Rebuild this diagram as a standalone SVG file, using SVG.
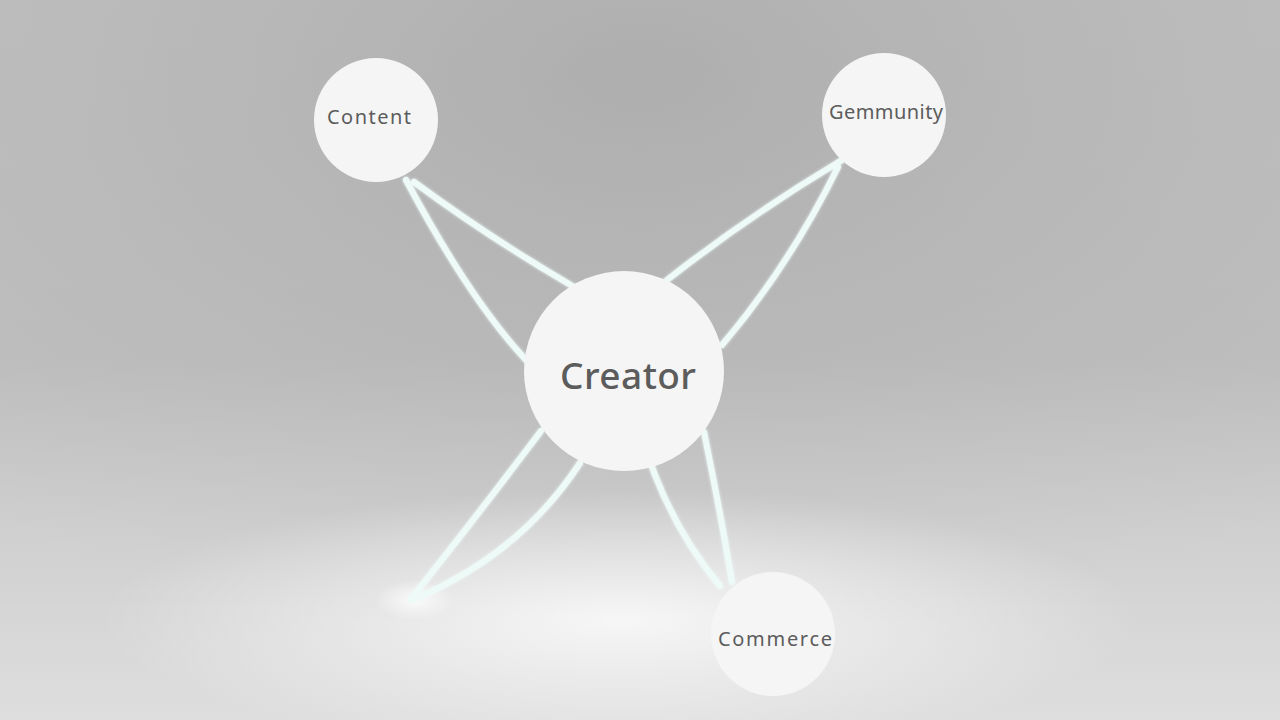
<svg xmlns="http://www.w3.org/2000/svg" width="1280" height="720" viewBox="0 0 1280 720">
<defs>
<linearGradient id="bg" x1="0" y1="0" x2="0" y2="1">
<stop offset="0" stop-color="#b6b6b6"/>
<stop offset="0.5" stop-color="#b3b3b3"/>
<stop offset="0.75" stop-color="#cfcfcf"/>
<stop offset="1" stop-color="#e6e6e6"/>
</linearGradient>
<radialGradient id="vig" cx="0.5" cy="0.1" r="0.8">
<stop offset="0" stop-color="#a9a9a9" stop-opacity="0.6"/>
<stop offset="1" stop-color="#d2d2d2" stop-opacity="0.4"/>
</radialGradient>
<radialGradient id="floor" cx="0.5" cy="0.5" r="0.5">
<stop offset="0" stop-color="#ffffff" stop-opacity="0.8"/>
<stop offset="1" stop-color="#ffffff" stop-opacity="0"/>
</radialGradient>
<filter id="glow" x="-20%" y="-20%" width="140%" height="140%">
<feGaussianBlur in="SourceGraphic" stdDeviation="1.8" result="b"/>
<feMerge><feMergeNode in="b"/><feMergeNode in="SourceGraphic"/></feMerge>
</filter>
</defs>
<style>
.edge{fill:none;stroke:#eefaf7;stroke-width:6;stroke-linecap:round}
.node{fill:#f5f5f5}
.lbl{font-family:"Noto Sans","DejaVu Sans",sans-serif;fill:#5c5c5c;text-anchor:middle;dominant-baseline:central}
</style>
<rect width="1280" height="720" fill="url(#bg)"/>
<rect width="1280" height="720" fill="url(#vig)"/>
<ellipse cx="620" cy="620" rx="520" ry="130" fill="url(#floor)"/>
<ellipse cx="415" cy="600" rx="40" ry="20" fill="url(#floor)"/>
<g id="connectors" filter="url(#glow)">
<path class="edge" d="M414,182 Q490,238 574,287"/>
<path class="edge" d="M406,180 Q470,300 526,360"/>
<path class="edge" d="M842,160 Q750,215 667,280"/>
<path class="edge" d="M838,167 Q790,265 722,345"/>
<path class="edge" d="M541,431 Q470,525 410,600"/>
<path class="edge" d="M580,463 Q520,555 412,600"/>
<path class="edge" d="M640,430 Q665,520 720,586"/>
<path class="edge" d="M704,432 Q720,510 732,582"/>
</g>
<g id="node-content">
<circle class="node" cx="376" cy="120" r="62"/>
<text class="lbl" x="369" y="116" font-size="20" textLength="84">Content</text>
</g>
<g id="node-community">
<circle class="node" cx="884" cy="115" r="62"/>
<text class="lbl" x="886" y="111" font-size="20" textLength="114">Gemmunity</text>
</g>
<g id="node-creator">
<circle class="node" cx="624" cy="371" r="100"/>
<text class="lbl" x="628" y="374" font-size="37" font-weight="500" textLength="136" fill="#555">Creator</text>
</g>
<g id="node-commerce">
<circle class="node" cx="773" cy="634" r="62"/>
<text class="lbl" x="775" y="638" font-size="20" textLength="114">Commerce</text>
</g>
</svg>
